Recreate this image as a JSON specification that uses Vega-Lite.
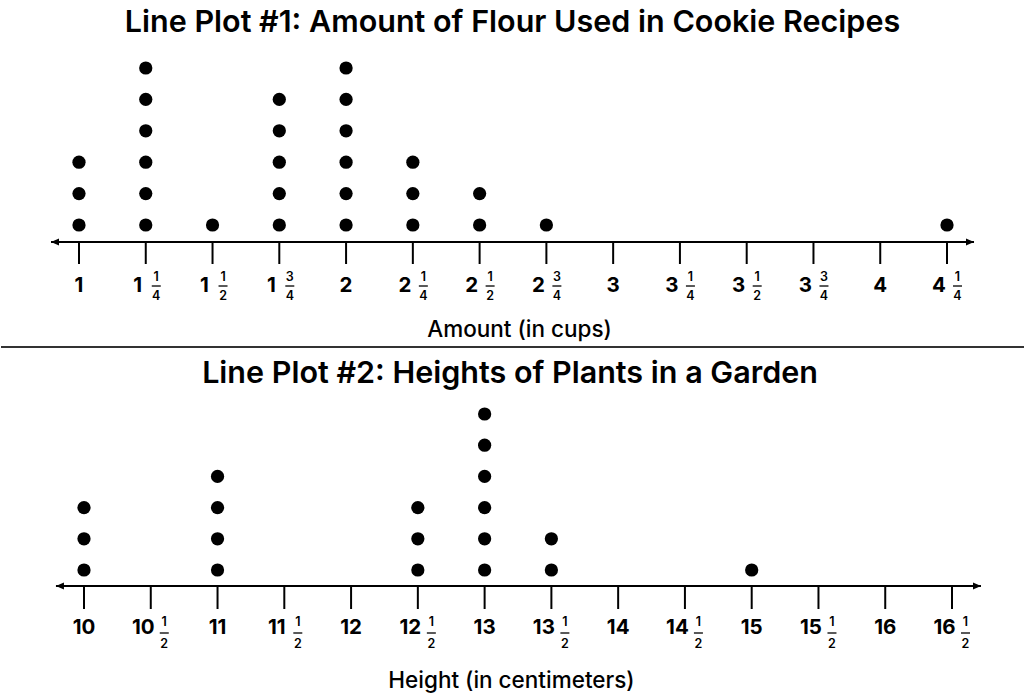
{
  "$schema": "https://vega.github.io/schema/vega-lite/v6.json",
  "padding": 0,
  "spacing": 0,
  "background": "white",
  "config": {"view": {"stroke": null}, "font": "Inter"},
  "datasets": {
    "flour": [
      {"cups": 1}, {"cups": 1}, {"cups": 1},
      {"cups": 1.25}, {"cups": 1.25}, {"cups": 1.25}, {"cups": 1.25}, {"cups": 1.25}, {"cups": 1.25},
      {"cups": 1.5},
      {"cups": 1.75}, {"cups": 1.75}, {"cups": 1.75}, {"cups": 1.75}, {"cups": 1.75},
      {"cups": 2}, {"cups": 2}, {"cups": 2}, {"cups": 2}, {"cups": 2}, {"cups": 2},
      {"cups": 2.25}, {"cups": 2.25}, {"cups": 2.25},
      {"cups": 2.5}, {"cups": 2.5},
      {"cups": 2.75},
      {"cups": 4.25}
    ],
    "flourTicks": [
      {"v": 1, "whole": "1"},
      {"v": 1.25, "whole": "1", "num": "1", "den": "4"},
      {"v": 1.5, "whole": "1", "num": "1", "den": "2"},
      {"v": 1.75, "whole": "1", "num": "3", "den": "4"},
      {"v": 2, "whole": "2"},
      {"v": 2.25, "whole": "2", "num": "1", "den": "4"},
      {"v": 2.5, "whole": "2", "num": "1", "den": "2"},
      {"v": 2.75, "whole": "2", "num": "3", "den": "4"},
      {"v": 3, "whole": "3"},
      {"v": 3.25, "whole": "3", "num": "1", "den": "4"},
      {"v": 3.5, "whole": "3", "num": "1", "den": "2"},
      {"v": 3.75, "whole": "3", "num": "3", "den": "4"},
      {"v": 4, "whole": "4"},
      {"v": 4.25, "whole": "4", "num": "1", "den": "4"}
    ],
    "plants": [
      {"cm": 10}, {"cm": 10}, {"cm": 10},
      {"cm": 11}, {"cm": 11}, {"cm": 11}, {"cm": 11},
      {"cm": 12.5}, {"cm": 12.5}, {"cm": 12.5},
      {"cm": 13}, {"cm": 13}, {"cm": 13}, {"cm": 13}, {"cm": 13}, {"cm": 13},
      {"cm": 13.5}, {"cm": 13.5},
      {"cm": 15}
    ],
    "plantTicks": [
      {"v": 10, "whole": "10"},
      {"v": 10.5, "whole": "10", "num": "1", "den": "2"},
      {"v": 11, "whole": "11"},
      {"v": 11.5, "whole": "11", "num": "1", "den": "2"},
      {"v": 12, "whole": "12"},
      {"v": 12.5, "whole": "12", "num": "1", "den": "2"},
      {"v": 13, "whole": "13"},
      {"v": 13.5, "whole": "13", "num": "1", "den": "2"},
      {"v": 14, "whole": "14"},
      {"v": 14.5, "whole": "14", "num": "1", "den": "2"},
      {"v": 15, "whole": "15"},
      {"v": 15.5, "whole": "15", "num": "1", "den": "2"},
      {"v": 16, "whole": "16"},
      {"v": 16.5, "whole": "16", "num": "1", "den": "2"}
    ],
    "titles1": [{"t": "Line Plot #1: Amount of Flour Used in Cookie Recipes"}],
    "titles2": [{"t": "Line Plot #2: Heights of Plants in a Garden"}]
  },
  "vconcat": [
    {
      "width": 1024,
      "height": 347,
      "resolve": {"axis": {"x": "independent", "y": "independent"}},
      "layer": [
        {
          "data": {"name": "titles1"},
          "mark": {"type": "text", "fontSize": 30.5, "fontWeight": 600, "color": "black", "baseline": "middle", "align": "center", "dy": 1},
          "encoding": {
            "text": {"field": "t"},
            "x": {"datum": 2.6231, "type": "quantitative", "scale": {"domain": [0.708, 4.542], "nice": false, "zero": false}, "axis": null},
            "y": {"datum": 7.465, "type": "quantitative", "scale": {"domain": [-2.8854, 8.1656], "nice": false, "zero": false}, "axis": null}
          }
        },
        {
          "data": {"name": "titles1"},
          "mark": {"type": "rule", "color": "#333333", "strokeWidth": 2},
          "encoding": {
            "y": {"datum": -2.8854, "type": "quantitative", "scale": {"domain": [-2.8854, 8.1656], "nice": false, "zero": false}, "axis": null}
          }
        },
        {
          "data": {"name": "titles1"},
          "mark": {"type": "rule", "color": "black", "strokeWidth": 2},
          "encoding": {
            "x": {"datum": 0.8952, "type": "quantitative", "scale": {"domain": [0.708, 4.542], "nice": false, "zero": false}, "axis": null},
            "x2": {"datum": 4.3511},
            "y": {"datum": 0.4586, "type": "quantitative", "scale": {"domain": [-2.8854, 8.1656], "nice": false, "zero": false}, "axis": null}
          }
        },
        {
          "data": {"name": "titles1"},
          "mark": {"type": "point", "filled": true, "color": "black", "opacity": 1, "size": 64, "shape": "M0,0L2,-0.9L2,0.9Z"},
          "encoding": {
            "x": {"datum": 0.8952, "type": "quantitative", "scale": {"domain": [0.708, 4.542], "nice": false, "zero": false}, "axis": null},
            "y": {"datum": 0.4586, "type": "quantitative", "scale": {"domain": [-2.8854, 8.1656], "nice": false, "zero": false}, "axis": null}
          }
        },
        {
          "data": {"name": "titles1"},
          "mark": {"type": "point", "filled": true, "color": "black", "opacity": 1, "size": 64, "shape": "M0,0L-2,-0.9L-2,0.9Z"},
          "encoding": {
            "x": {"datum": 4.3511, "type": "quantitative", "scale": {"domain": [0.708, 4.542], "nice": false, "zero": false}, "axis": null},
            "y": {"datum": 0.4586, "type": "quantitative", "scale": {"domain": [-2.8854, 8.1656], "nice": false, "zero": false}, "axis": null}
          }
        },
        {
          "data": {"name": "flourTicks"},
          "mark": {"type": "rule", "color": "black", "strokeWidth": 2},
          "encoding": {
            "x": {"field": "v", "type": "quantitative", "scale": {"domain": [0.708, 4.542], "nice": false, "zero": false}, "axis": null},
            "y": {"datum": 0.4586, "type": "quantitative", "scale": {"domain": [-2.8854, 8.1656], "nice": false, "zero": false}, "axis": null},
            "y2": {"datum": -0.242}
          }
        },
        {
          "data": {"name": "flourTicks"},
          "transform": [{"filter": "!isValid(datum.num)"}],
          "mark": {"type": "text", "fontSize": 20.5, "fontWeight": "bold", "color": "black", "baseline": "middle", "align": "center"},
          "encoding": {
            "text": {"field": "whole"},
            "x": {"field": "v", "type": "quantitative", "scale": {"domain": [0.708, 4.542], "nice": false, "zero": false}, "axis": null},
            "y": {"datum": -0.927, "type": "quantitative", "scale": {"domain": [-2.8854, 8.1656], "nice": false, "zero": false}, "axis": null}
          }
        },
        {
          "data": {"name": "flourTicks"},
          "transform": [{"filter": "isValid(datum.num)"}],
          "mark": {"type": "text", "fontSize": 20.5, "fontWeight": "bold", "color": "black", "baseline": "middle", "align": "center", "dx": -8},
          "encoding": {
            "text": {"field": "whole"},
            "x": {"field": "v", "type": "quantitative", "scale": {"domain": [0.708, 4.542], "nice": false, "zero": false}, "axis": null},
            "y": {"datum": -0.927, "type": "quantitative", "scale": {"domain": [-2.8854, 8.1656], "nice": false, "zero": false}, "axis": null}
          }
        },
        {
          "data": {"name": "flourTicks"},
          "transform": [{"filter": "isValid(datum.num)"}],
          "mark": {"type": "text", "fontSize": 12.5, "fontWeight": 600, "color": "black", "baseline": "middle", "align": "center", "dx": 10.5, "dy": -9},
          "encoding": {
            "text": {"field": "num"},
            "x": {"field": "v", "type": "quantitative", "scale": {"domain": [0.708, 4.542], "nice": false, "zero": false}, "axis": null},
            "y": {"datum": -0.927, "type": "quantitative", "scale": {"domain": [-2.8854, 8.1656], "nice": false, "zero": false}, "axis": null}
          }
        },
        {
          "data": {"name": "flourTicks"},
          "transform": [{"filter": "isValid(datum.num)"}],
          "mark": {"type": "text", "fontSize": 12.5, "fontWeight": 600, "color": "black", "baseline": "middle", "align": "center", "dx": 10.5, "dy": 10.5},
          "encoding": {
            "text": {"field": "den"},
            "x": {"field": "v", "type": "quantitative", "scale": {"domain": [0.708, 4.542], "nice": false, "zero": false}, "axis": null},
            "y": {"datum": -0.927, "type": "quantitative", "scale": {"domain": [-2.8854, 8.1656], "nice": false, "zero": false}, "axis": null}
          }
        },
        {
          "data": {"name": "flourTicks"},
          "transform": [{"filter": "isValid(datum.num)"}],
          "mark": {"type": "rule", "color": "black", "strokeWidth": 1.3, "xOffset": 6, "x2Offset": 15, "yOffset": 0.5, "y2Offset": 0.5},
          "encoding": {
            "x": {"field": "v", "type": "quantitative", "scale": {"domain": [0.708, 4.542], "nice": false, "zero": false}, "axis": null},
            "x2": {"field": "v"},
            "y": {"datum": -0.927, "type": "quantitative", "scale": {"domain": [-2.8854, 8.1656], "nice": false, "zero": false}, "axis": null}
          }
        },
        {
          "data": {"name": "flour"},
          "transform": [{"window": [{"op": "row_number", "as": "level"}], "groupby": ["cups"]}],
          "mark": {"type": "point", "filled": true, "color": "black", "opacity": 1, "size": 175},
          "encoding": {
            "x": {
              "field": "cups", "type": "quantitative",
              "scale": {"domain": [0.708, 4.542], "nice": false, "zero": false},
              "axis": {"title": "Amount (in cups)", "domain": false, "ticks": false, "labels": false, "grid": false, "titleY": -18, "titleX": 518, "titleAlign": "center", "titleBaseline": "middle", "titleFontSize": 22.5, "titleFontWeight": 500, "titleColor": "black", "titleFont": "Inter", "minExtent": 0, "maxExtent": 0}
            },
            "y": {"field": "level", "type": "quantitative", "scale": {"domain": [-2.8854, 8.1656], "nice": false, "zero": false}, "axis": null}
          }
        }
      ]
    },
    {
      "width": 1024,
      "height": 347,
      "resolve": {"axis": {"x": "independent", "y": "independent"}},
      "layer": [
        {
          "data": {"name": "titles2"},
          "mark": {"type": "text", "fontSize": 30.5, "fontWeight": 600, "color": "black", "baseline": "middle", "align": "center", "dy": 1},
          "encoding": {
            "text": {"field": "t"},
            "x": {"datum": 13.19, "type": "quantitative", "scale": {"domain": [9.3785, 17.0466], "nice": false, "zero": false}, "axis": null},
            "y": {"datum": 7.314, "type": "quantitative", "scale": {"domain": [-3.0064, 8.1154], "nice": false, "zero": false}, "axis": null}
          }
        },
        {
          "data": {"name": "titles2"},
          "mark": {"type": "rule", "color": "black", "strokeWidth": 2},
          "encoding": {
            "x": {"datum": 9.79, "type": "quantitative", "scale": {"domain": [9.3785, 17.0466], "nice": false, "zero": false}, "axis": null},
            "x2": {"datum": 16.717},
            "y": {"datum": 0.4872, "type": "quantitative", "scale": {"domain": [-3.0064, 8.1154], "nice": false, "zero": false}, "axis": null}
          }
        },
        {
          "data": {"name": "titles2"},
          "mark": {"type": "point", "filled": true, "color": "black", "opacity": 1, "size": 64, "shape": "M0,0L2,-0.9L2,0.9Z"},
          "encoding": {
            "x": {"datum": 9.79, "type": "quantitative", "scale": {"domain": [9.3785, 17.0466], "nice": false, "zero": false}, "axis": null},
            "y": {"datum": 0.4872, "type": "quantitative", "scale": {"domain": [-3.0064, 8.1154], "nice": false, "zero": false}, "axis": null}
          }
        },
        {
          "data": {"name": "titles2"},
          "mark": {"type": "point", "filled": true, "color": "black", "opacity": 1, "size": 64, "shape": "M0,0L-2,-0.9L-2,0.9Z"},
          "encoding": {
            "x": {"datum": 16.717, "type": "quantitative", "scale": {"domain": [9.3785, 17.0466], "nice": false, "zero": false}, "axis": null},
            "y": {"datum": 0.4872, "type": "quantitative", "scale": {"domain": [-3.0064, 8.1154], "nice": false, "zero": false}, "axis": null}
          }
        },
        {
          "data": {"name": "plantTicks"},
          "mark": {"type": "rule", "color": "black", "strokeWidth": 2},
          "encoding": {
            "x": {"field": "v", "type": "quantitative", "scale": {"domain": [9.3785, 17.0466], "nice": false, "zero": false}, "axis": null},
            "y": {"datum": 0.4872, "type": "quantitative", "scale": {"domain": [-3.0064, 8.1154], "nice": false, "zero": false}, "axis": null},
            "y2": {"datum": -0.25}
          }
        },
        {
          "data": {"name": "plantTicks"},
          "transform": [{"filter": "!isValid(datum.num)"}],
          "mark": {"type": "text", "fontSize": 20.5, "fontWeight": "bold", "color": "black", "baseline": "middle", "align": "center"},
          "encoding": {
            "text": {"field": "whole"},
            "x": {"field": "v", "type": "quantitative", "scale": {"domain": [9.3785, 17.0466], "nice": false, "zero": false}, "axis": null},
            "y": {"datum": -0.843, "type": "quantitative", "scale": {"domain": [-3.0064, 8.1154], "nice": false, "zero": false}, "axis": null}
          }
        },
        {
          "data": {"name": "plantTicks"},
          "transform": [{"filter": "isValid(datum.num)"}],
          "mark": {"type": "text", "fontSize": 20.5, "fontWeight": "bold", "color": "black", "baseline": "middle", "align": "center", "dx": -7.5},
          "encoding": {
            "text": {"field": "whole"},
            "x": {"field": "v", "type": "quantitative", "scale": {"domain": [9.3785, 17.0466], "nice": false, "zero": false}, "axis": null},
            "y": {"datum": -0.843, "type": "quantitative", "scale": {"domain": [-3.0064, 8.1154], "nice": false, "zero": false}, "axis": null}
          }
        },
        {
          "data": {"name": "plantTicks"},
          "transform": [{"filter": "isValid(datum.num)"}],
          "mark": {"type": "text", "fontSize": 12.5, "fontWeight": 600, "color": "black", "baseline": "middle", "align": "center", "dx": 13.5, "dy": -5.5},
          "encoding": {
            "text": {"field": "num"},
            "x": {"field": "v", "type": "quantitative", "scale": {"domain": [9.3785, 17.0466], "nice": false, "zero": false}, "axis": null},
            "y": {"datum": -0.843, "type": "quantitative", "scale": {"domain": [-3.0064, 8.1154], "nice": false, "zero": false}, "axis": null}
          }
        },
        {
          "data": {"name": "plantTicks"},
          "transform": [{"filter": "isValid(datum.num)"}],
          "mark": {"type": "text", "fontSize": 12.5, "fontWeight": 600, "color": "black", "baseline": "middle", "align": "center", "dx": 13.5, "dy": 16.5},
          "encoding": {
            "text": {"field": "den"},
            "x": {"field": "v", "type": "quantitative", "scale": {"domain": [9.3785, 17.0466], "nice": false, "zero": false}, "axis": null},
            "y": {"datum": -0.843, "type": "quantitative", "scale": {"domain": [-3.0064, 8.1154], "nice": false, "zero": false}, "axis": null}
          }
        },
        {
          "data": {"name": "plantTicks"},
          "transform": [{"filter": "isValid(datum.num)"}],
          "mark": {"type": "rule", "color": "black", "strokeWidth": 1.3, "xOffset": 9, "x2Offset": 18, "yOffset": 5.5, "y2Offset": 5.5},
          "encoding": {
            "x": {"field": "v", "type": "quantitative", "scale": {"domain": [9.3785, 17.0466], "nice": false, "zero": false}, "axis": null},
            "x2": {"field": "v"},
            "y": {"datum": -0.843, "type": "quantitative", "scale": {"domain": [-3.0064, 8.1154], "nice": false, "zero": false}, "axis": null}
          }
        },
        {
          "data": {"name": "plants"},
          "transform": [{"window": [{"op": "row_number", "as": "level"}], "groupby": ["cm"]}],
          "mark": {"type": "point", "filled": true, "color": "black", "opacity": 1, "size": 175},
          "encoding": {
            "x": {
              "field": "cm", "type": "quantitative",
              "scale": {"domain": [9.3785, 17.0466], "nice": false, "zero": false},
              "axis": {"title": "Height (in centimeters)", "domain": false, "ticks": false, "labels": false, "grid": false, "titleY": -15, "titleX": 510, "titleAlign": "center", "titleBaseline": "middle", "titleFontSize": 22.5, "titleFontWeight": 500, "titleColor": "black", "titleFont": "Inter", "minExtent": 0, "maxExtent": 0}
            },
            "y": {"field": "level", "type": "quantitative", "scale": {"domain": [-3.0064, 8.1154], "nice": false, "zero": false}, "axis": null}
          }
        }
      ]
    }
  ]
}
